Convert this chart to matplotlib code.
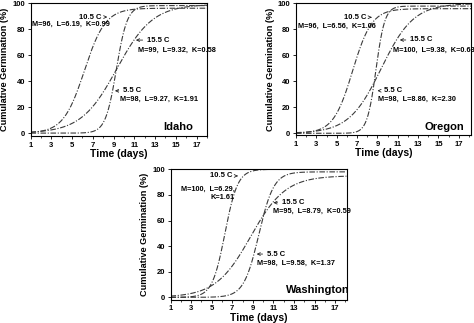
import numpy as np
import matplotlib
matplotlib.use("Agg")
import matplotlib.pyplot as plt

plt.rcParams['font.family'] = ['Liberation Sans', 'DejaVu Sans']
plt.rcParams['font.weight'] = 'bold'

# Temperature treatments (same order in every panel)
temps = ['10.5 C', '15.5 C', '5.5 C']

# Fitted logistic parameters per region: M (max %), L (days to 50%), K (rate)
idaho_M = [96, 99, 98]
idaho_L = [6.19, 9.32, 9.27]
idaho_K = [0.99, 0.58, 1.91]

oregon_M = [96, 100, 98]
oregon_L = [6.56, 9.38, 8.86]
oregon_K = [1.06, 0.63, 2.30]

washington_M = [100, 95, 98]
washington_L = [6.29, 8.79, 9.58]
washington_K = [1.61, 0.59, 1.37]

x_ticks = [1, 3, 5, 7, 9, 11, 13, 15, 17]
y_ticks = [0, 20, 40, 60, 80, 100]

W, H = 474, 323
fig = plt.figure(figsize=(W / 100, H / 100), dpi=100)


def px_axes(left, top, right, bottom):
    return fig.add_axes([left / W, 1 - bottom / H, (right - left) / W, (bottom - top) / H])


def panel(ax, M, L, K, name, xmax, ymin, ann, name_xy):
    t = np.linspace(1, xmax, 400)
    for m, l, k in zip(M, L, K):
        ax.plot(t, m / (1 + np.exp(-k * (t - l))), color='#3a3a3a', lw=0.8,
                ls=(0, (5, 1.5, 1, 1.5)))
    ax.set_xlim(1, xmax)
    ax.set_ylim(ymin, 100)
    ax.set_xticks(x_ticks)
    ax.set_xticks(range(2, 19, 2), minor=True)
    ax.set_yticks(y_ticks)
    ax.tick_params(labelsize=5.5, length=2, width=0.6, pad=2)
    ax.tick_params(which='minor', length=1.5, width=0.5)
    for lab in ax.get_xticklabels() + ax.get_yticklabels():
        lab.set_fontweight('bold')
    for s in ax.spines.values():
        s.set_linewidth(0.8)
    ax.set_xlabel('Time (days)', fontsize=7.5, fontweight='bold', labelpad=0.5)
    ax.set_ylabel('Cumulative Germination (%)', fontsize=6.6, fontweight='bold', labelpad=2)
    for i, (tip, txt_xy, par) in enumerate(ann):
        ax.annotate(temps[i], xy=tip, xytext=txt_xy, fontsize=5.5, fontweight='bold',
                    va='center', ha='left' if txt_xy[0] > tip[0] else 'right',
                    arrowprops=dict(arrowstyle='->', lw=0.6, color='#222',
                                    mutation_scale=5, shrinkA=1, shrinkB=0),
                    annotation_clip=False)
        px, py, txt_ha, wrap = par
        sep = ",\n" if wrap else ",  "
        label = f"M={M[i]},  L={L[i]:.2f}{sep}K={K[i]:.2f}"
        ax.text(px, py, label, fontsize=5.3, fontweight='bold', ha=txt_ha, va='center',
                multialignment=txt_ha, linespacing=1.3, clip_on=False)
    ax.text(name_xy[0], name_xy[1], name, fontsize=8, fontweight='bold',
            ha='center', va='center')


# Idaho
ax1 = px_axes(30.5, 3, 207, 136)
panel(ax1, idaho_M, idaho_L, idaho_K, 'Idaho', 18.0, -2.2,
      [((8.4, 89.2), (7.8, 89.2), (1.15, 83.8, 'left', False)),
       ((11.15, 71.5), (12.2, 71.5), (11.35, 63.8, 'left', False)),
       ((9.13, 32.5), (9.9, 32.5), (9.6, 26.0, 'left', False))],
      (15.2, 5.0))

# Oregon
ax2 = px_axes(296, 3.5, 471, 135)
panel(ax2, oregon_M, oregon_L, oregon_K, 'Oregon', 18.2, -1.3,
      [((8.45, 89.4), (7.9, 89.4), (1.15, 82.1, 'left', False)),
       ((11.2, 71.9), (12.2, 71.9), (10.5, 64.2, 'left', False)),
       ((9.0, 32.8), (9.6, 32.8), (9.1, 26.2, 'left', False))],
      (15.55, 4.8))

# Washington
ax3 = px_axes(170.5, 169.3, 346.5, 299.5)
panel(ax3, washington_M, washington_L, washington_K, 'Washington', 18.1, -1.7,
      [((7.55, 94.8), (7.0, 94.8), (7.2, 81.2, 'right', True)),
       ((11.0, 73.9), (11.8, 73.9), (11.0, 67.4, 'left', False)),
       ((9.37, 33.8), (10.35, 33.8), (9.37, 26.3, 'left', False))],
      (15.3, 5.5))

fig.savefig('out.png', dpi=100)
